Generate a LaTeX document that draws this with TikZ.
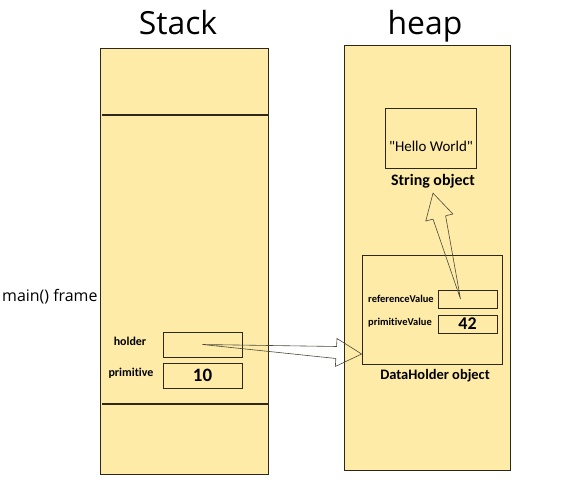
\documentclass[tikz,border=0pt]{standalone}
\usepackage{fontspec}
\setmainfont{Carlito}[Ligatures={TeX,NoCommon}]
\newfontfamily\titlefont{Open Sans}
\newfontfamily\quotefont{Carlito}
\usetikzlibrary{calc}
\definecolor{notepaper}{RGB}{253,235,167}
\definecolor{inkline}{RGB}{45,40,25}
\begin{document}
\begin{tikzpicture}[x=1bp,y=-1bp,
  column/.style={draw=inkline,fill=notepaper,line width=0.8bp,inner sep=0pt},
  cell/.style={draw=inkline,line width=0.7bp,inner sep=0pt},
  varlabel/.style={font=\fontsize{12}{14}\selectfont\bfseries,inner sep=0pt},
  fieldlabel/.style={font=\fontsize{10.5}{12}\selectfont\bfseries,inner sep=0pt},
  wedge/.style={draw=inkline!85,line width=0.6bp}]
\useasboundingbox (0,0) rectangle (567,483);
% Titles
\draw (178,35) node(stacktitle)[anchor=base,font=\titlefont\fontsize{32}{36}\selectfont] {Stack};
\draw (425,35) node(heaptitle)[anchor=base,font=\titlefont\fontsize{32}{36}\selectfont] {heap};
% Stack column
\draw (184,261) node(stackcol)[column,minimum width=168bp,minimum height=426bp] {};
\draw[inkline,line width=1.4bp] (102,115) -- (268,115);
\draw[inkline,line width=1.4bp] (102,404) -- (268,404);
\draw (2,297) node(mainframe)[anchor=west,inner sep=0pt,font=\titlefont\fontsize{16}{18}\selectfont] {main() frame};
% Stack variables
\draw (202.5,344.5) node(holderbox)[cell,minimum width=79bp,minimum height=25bp] {};
\draw (202.5,375.5) node(primbox)[cell,minimum width=79bp,minimum height=25bp,font=\fontsize{19}{21}\selectfont\bfseries] {10};
\draw (130,341) node(holderlabel)[varlabel] {holder};
\draw (131,373) node(primlabel)[varlabel] {primitive};
% Heap column
\draw (427,257.5) node(heapcol)[column,minimum width=166bp,minimum height=425bp] {};
% String object
\draw (430.5,138) node(strbox)[cell,minimum width=91bp,minimum height=60bp] {};
\draw (431,146) node(strtext)[inner sep=0pt,font=\quotefont\fontsize{15}{17}\selectfont] {"Hello World"};
\draw (433,181) node(strlabel)[inner sep=0pt,font=\fontsize{16}{18}\selectfont\bfseries] {String object};
% DataHolder object
\draw (432,309.5) node(dhbox)[cell,minimum width=140bp,minimum height=109bp] {};
\draw (467.5,299) node(refbox)[cell,minimum width=59bp,minimum height=18bp] {};
\draw (467.5,324) node(pvalbox)[cell,minimum width=59bp,minimum height=18bp,font=\fontsize{18}{20}\selectfont\bfseries] {42};
\draw (401,299) node(reflabel)[fieldlabel] {referenceValue};
\draw (400,323) node(pvallabel)[fieldlabel] {primitiveValue};
\draw (435,376) node(dhlabel)[inner sep=0pt,font=\fontsize{14.5}{16}\selectfont\bfseries] {DataHolder object};
% Arrow holder -> DataHolder
\coordinate (dhtip) at ([yshift=-44.5bp]dhbox.west);
\draw[wedge] (holderbox.center) -- ($(holderbox.center)!0.84!(dhtip)!6bp!90:(dhtip)$) -- ($(holderbox.center)!0.84!(dhtip)!14bp!90:(dhtip)$) -- (dhtip) -- ($(holderbox.center)!0.84!(dhtip)!14bp!-90:(dhtip)$) -- ($(holderbox.center)!0.84!(dhtip)!6bp!-90:(dhtip)$) -- cycle;
% Arrow referenceValue -> String object
\coordinate (refptr) at ([xshift=-7bp]refbox.center);
\coordinate (strtip) at ([yshift=-5bp]strlabel.south);
\draw[wedge] (refptr) -- ($(refptr)!0.77!(strtip)!6.5bp!90:(strtip)$) -- ($(refptr)!0.77!(strtip)!14bp!90:(strtip)$) -- (strtip) -- ($(refptr)!0.77!(strtip)!14bp!-90:(strtip)$) -- ($(refptr)!0.77!(strtip)!6.5bp!-90:(strtip)$) -- cycle;
\end{tikzpicture}
\end{document}
